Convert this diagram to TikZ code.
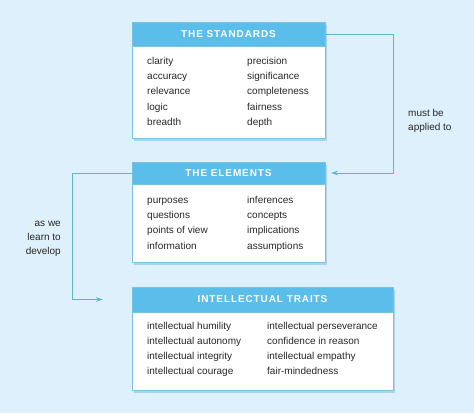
\documentclass[tikz,border=0pt]{standalone}
\usepackage{fontspec}
\setmainfont{Liberation Sans}
\usepackage{xcolor}
\usetikzlibrary{arrows.meta,positioning,calc,shadows}

\definecolor{bgblue}{RGB}{221,240,251}
\definecolor{headblue}{RGB}{90,189,234}
\definecolor{edgeblue}{RGB}{120,194,226}
\definecolor{linkblue}{RGB}{96,181,203}
\definecolor{shadeblue}{RGB}{150,200,232}
\definecolor{inkgray}{RGB}{40,40,40}

\begin{document}
\begin{tikzpicture}[x=1pt, y=-1pt,
  boxbody/.style={draw=edgeblue, line width=0.7pt, fill=white, inner sep=0pt,
    outer sep=0pt, anchor=north west,
    drop shadow={shadow xshift=2pt, shadow yshift=-2.5pt, fill=shadeblue, opacity=0.7}},
  boxhead/.style={draw=edgeblue, line width=0.7pt, fill=headblue, inner sep=0pt,
    outer sep=0pt, anchor=north west, text=white,
    font=\fontsize{10}{12}\selectfont\bfseries\addfontfeatures{LetterSpace=9}},
  item/.style={anchor=west, inner sep=0pt, text=inkgray, text height=7pt,
    text depth=2pt, font=\fontsize{10}{12}\selectfont},
  link/.style={draw=linkblue, line width=0.8pt,
    -{Stealth[length=7pt,width=4.5pt]}},
  note/.style={text=inkgray, inner sep=0pt, font=\fontsize{10}{14}\selectfont}]

  \fill[bgblue] (0,0) rectangle (474,413);

  % The standards
  \node[boxbody, minimum width=193pt, minimum height=116pt] (stdbox) at (132,22) {};
  \node[boxhead, minimum width=193pt, minimum height=24pt] (stdhead) at (132,22)
    {THE STANDARDS};
  \foreach \txt [count=\i] in {clarity, accuracy, relevance, logic, breadth}
    \node[item] (stdl\i) at (147, 46.8+15.2*\i) {\txt};
  \foreach \txt [count=\i] in {precision, significance, completeness, fairness, depth}
    \node[item] (stdr\i) at (247, 46.8+15.2*\i) {\txt};

  % The elements
  \node[boxbody, minimum width=193pt, minimum height=100pt] (elembox) at (132,162) {};
  \node[boxhead, minimum width=193pt, minimum height=22pt] (elemhead) at (132,162)
    {THE ELEMENTS};
  \foreach \txt [count=\i] in {purposes, questions, points of view, information}
    \node[item] (eleml\i) at (147, 185.5+15.3*\i) {\txt};
  \foreach \txt [count=\i] in {inferences, concepts, implications, assumptions}
    \node[item] (elemr\i) at (247, 185.5+15.3*\i) {\txt};

  % Intellectual traits
  \node[boxbody, minimum width=261pt, minimum height=103pt] (traitbox) at (132,287) {};
  \node[boxhead, minimum width=261pt, minimum height=25pt] (traithead) at (132,287)
    {INTELLECTUAL TRAITS};
  \foreach \txt [count=\i] in {intellectual humility, intellectual autonomy,
      intellectual integrity, intellectual courage}
    \node[item] (traitl\i) at (147, 312+15*\i) {\txt};
  \foreach \txt [count=\i] in {intellectual perseverance, confidence in reason,
      intellectual empathy, fair-mindedness}
    \node[item] (traitr\i) at (267, 312+15*\i) {\txt};

  % Connectors
  \draw[link, shorten >=6pt] (stdhead.east) -- ++(68,0) |- (elemhead.east);
  \draw[link, shorten >=29pt] (elemhead.west) -- ++(-60,0) |- (traithead.west);

  % Labels
  \node[note, anchor=west, align=left] (applied) at (408,120.5)
    {must be\\applied to};
  \node[note, anchor=east, align=right] (develop) at (61,239)
    {as we\\learn to\\develop};

\end{tikzpicture}
\end{document}
